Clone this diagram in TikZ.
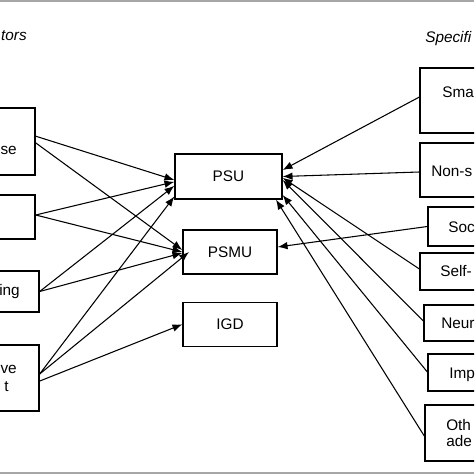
\documentclass[tikz,border=0pt]{standalone}
\usepackage{fontspec}
\setmainfont{Liberation Sans}
\usetikzlibrary{arrows.meta,positioning}

\begin{document}
\begin{tikzpicture}[
    x=0.75pt, y=-0.75pt,
    font=\fontsize{11.5}{13.5}\selectfont,
    box/.style={draw, line width=1pt, inner sep=0pt, align=center},
    cut/.style={inner sep=0pt},
    head/.style={cut, font=\fontsize{11.5}{13.5}\selectfont\itshape},
    flow/.style={-{Latex[length=2.6mm, width=2mm]}, line width=0.8pt}]
  \useasboundingbox (0,0) rectangle (474,474);
  \clip (0,0) rectangle (474,474);
  \fill[black!35] (0,0) rectangle (474,2);
  \fill[black!35] (0,472) rectangle (474,474);
  % headings
  \node[head, anchor=mid east] (risk) at (27,37) {tors};
  \node[head, anchor=mid west] (spec) at (425,38.5) {Specifi};
  % left column
  \node[box, minimum width=48.75pt, minimum height=50.25pt] (l1) at (2.5,141.5) {};
  \node[box, minimum width=48.75pt, minimum height=33pt] (l2) at (2.5,217) {};
  \node[box, minimum width=51.75pt, minimum height=30.75pt] (l3) at (4.5,291.5) {};
  \node[box, minimum width=51.75pt, minimum height=49.5pt] (l4) at (4.5,378) {};
  \node[cut, anchor=mid east] (l1txt) at (17,151) {se};
  \node[cut, anchor=mid east] (l3txt) at (20,292) {ing};
  \node[cut, anchor=mid east] (l4txta) at (17,370) {ve};
  \node[cut, anchor=mid east] (l4txtb) at (9,388) {t};
  % middle column
  \node[box, minimum width=80.25pt, minimum height=33.75pt] (psu) at (228.5,176.5) {PSU};
  \node[box, minimum width=70.5pt, minimum height=33pt] (psmu) at (230,252) {PSMU};
  \node[box, minimum width=70.5pt, minimum height=33pt, below=20.25pt of psmu] (igd) {IGD};
  % right column
  \node[box, minimum width=60pt, minimum height=48.75pt] (r1) at (460,100.5) {};
  \node[box, minimum width=60pt, minimum height=40.5pt] (r2) at (460,170) {};
  \node[box, minimum width=54pt, minimum height=29.25pt] (r3) at (464,226.5) {};
  \node[box, minimum width=60pt, minimum height=27.75pt] (r4) at (460,271.5) {};
  \node[box, minimum width=57pt, minimum height=27pt] (r5) at (462,323) {};
  \node[box, minimum width=54pt, minimum height=27.75pt] (r6) at (464,372.5) {};
  \node[box, minimum width=56.25pt, minimum height=42pt] (r7) at (462.5,433) {};
  \node[cut, anchor=mid west] (r1txt) at (442,93.5) {Sma};
  \node[cut, anchor=mid west] (r2txt) at (431,172.5) {Non-s};
  \node[cut, anchor=mid west] (r3txt) at (448,228.5) {Soc};
  \node[cut, anchor=mid west] (r4txt) at (440,272.5) {Self-};
  \node[cut, anchor=mid west] (r5txt) at (441,324.5) {Neur};
  \node[cut, anchor=mid west] (r6txt) at (449,374.5) {Imp};
  \node[cut, anchor=mid west] (r7txta) at (446,426.5) {Oth};
  \node[cut, anchor=mid west] (r7txtb) at (446,443) {ade};
  % left arrows
  \draw[flow] ([yshift=4pt]l1.east) -- ([yshift=-2.6pt]psu.west);
  \draw[flow] ([yshift=-1pt]l1.east) -- ([yshift=1.5pt]psmu.west);
  \draw[flow] ([yshift=1.5pt]l2.east) -- ([yshift=-4pt]psu.west);
  \draw[flow] ([yshift=1.5pt]l2.east) -- (psmu.west);
  \draw[flow] (l3.east) -- ([yshift=-7pt]psu.west);
  \draw[flow] (l3.east) -- ([yshift=-0.7pt]psmu.west);
  \draw[flow] ([yshift=3pt]l4.east) -- ([yshift=-15pt]psu.west);
  \draw[flow] ([yshift=3pt]l4.east) -- ([xshift=5pt]psmu.west);
  \draw[flow] ([yshift=-2.3pt]l4.east) -- (igd.west);
  % right arrows
  \draw[flow] ([yshift=2.6pt]r1.west) -- ([yshift=4.9pt]psu.east);
  \draw[flow] ([yshift=-1.5pt]r2.west) -- (psu.east);
  \draw[flow] (r3.west) -- ([yshift=3.75pt]psmu.east);
  \draw[flow] ([yshift=1.9pt]r4.west) -- ([yshift=-1pt]psu.east);
  \draw[flow] ([yshift=1.5pt]r5.west) -- ([yshift=-2.6pt]psu.east);
  \draw[flow] ([yshift=0.4pt]r6.west) -- ([yshift=-13.9pt]psu.east);
  \draw[flow] ([yshift=-2.3pt]r7.west) -- ([xshift=-5pt]psu.south east);
\end{tikzpicture}
\end{document}
